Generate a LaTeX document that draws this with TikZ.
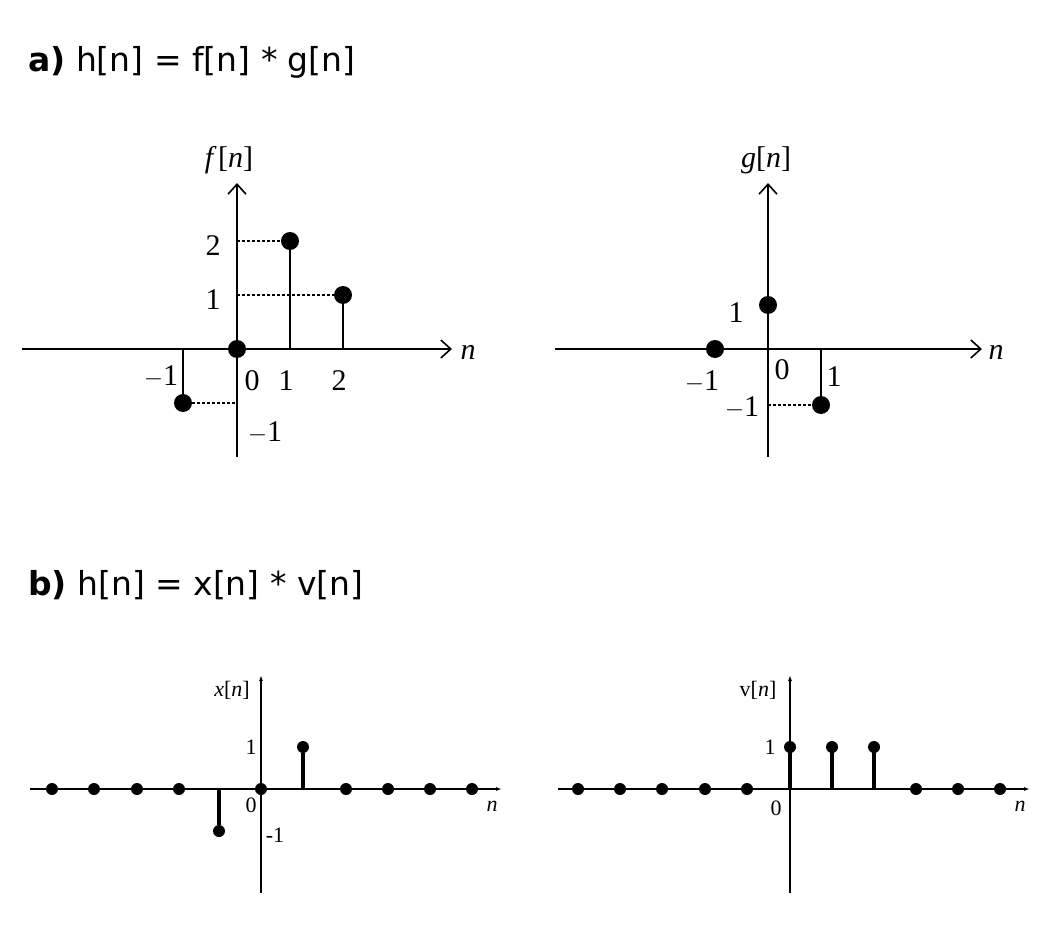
\documentclass[tikz,border=0pt]{standalone}
\usepackage{fontspec}
\setmainfont{Liberation Serif}
\newfontfamily\titlefont{DejaVu Sans}
\usetikzlibrary{arrows.meta}
\begin{document}
\begin{tikzpicture}[x=1pt,y=-1pt,
  ax/.style={line width=1.6pt,-{Straight Barb[length=10pt,width=18pt,line width=1.6pt]}},
  axs/.style={line width=1.2pt,-{Latex[length=6pt,width=4pt]}},
  stem/.style={line width=1.4pt},
  stemb/.style={line width=3.5pt},
  dot/.style={circle,fill=black,inner sep=0pt,minimum size=18pt},
  dots/.style={circle,fill=black,inner sep=0pt,minimum size=12pt},
  dl/.style={dashed,dash pattern=on 3pt off 2pt,line width=1.1pt},
  lab/.style={font=\fontsize{30}{32}\selectfont,inner sep=0pt},
  labs/.style={font=\fontsize{22}{24}\selectfont,inner sep=0pt},
  ttl/.style={font=\titlefont\fontsize{33}{36}\selectfont,anchor=west,inner sep=0pt}]
\useasboundingbox (0,0) rectangle (1053,931);
\node[ttl] (ta) at (28,62) {\textbf{a)} h[n] = f[n] * g[n]};
\node[ttl] (tb) at (28,585) {\textbf{b)} h[n] = x[n] * v[n]};
% plot f
\draw[ax] (22,349) -- (452,349);
\draw[ax] (237,457) -- (237,183);
\node[lab] (fl) at (229,160) {\textit{f\,}[\textit{n}]};
\node[lab] (fn) at (468,352) {\textit{n}};
\node[dot] (f0) at (237,349) {};
\node[dot] (f1) at (290,241) {};
\node[dot] (f2) at (343,295) {};
\node[dot] (fm) at (183,403) {};
\draw[stem] (f1) -- (290,349); \draw[stem] (f2) -- (343,349); \draw[stem] (fm) -- (183,349);
\draw[dl] (237,241) -- (f1); \draw[dl] (237,295) -- (f2); \draw[dl] (fm) -- (237,403);
\node[lab] at (213,246) {2}; \node[lab] at (213,300) {1};
\node[lab] at (161,377) {$-$1}; \node[lab] at (252,381) {0};
\node[lab] at (286,381) {1}; \node[lab] at (339,381) {2};
\node[lab] at (265,433) {$-$1};
% plot g
\draw[ax] (555,349) -- (982,349);
\draw[ax] (768,457) -- (768,183);
\node[lab] (gl) at (766,160) {\textit{g}[\textit{n}]};
\node[lab] (gn) at (996,352) {\textit{n}};
\node[dot] (gm) at (715,349) {};
\node[dot] (g0) at (768,305) {};
\node[dot] (g1) at (821,405) {};
\draw[stem] (g1) -- (821,349);
\draw[dl] (768,405) -- (g1);
\node[lab] at (736,313) {1}; \node[lab] at (702,382) {$-$1};
\node[lab] at (782,370) {0}; \node[lab] at (834,377) {1};
\node[lab] at (742,408) {$-$1};
% plot x
\draw[axs] (30,789) -- (502,789);
\draw[axs] (261,893) -- (261,675);
\node[labs] at (232,690) {\textit{x}[\textit{n}]};
\node[labs] at (492,806) {\textit{n}};
\foreach \px in {52,94,137,179,261,346,388,430,472} \node[dots] at (\px,789) {};
\node[dots] (xm) at (219,831) {}; \draw[stemb] (xm) -- (219,789);
\node[dots] (xp) at (303,747) {}; \draw[stemb] (xp) -- (303,789);
\node[labs] at (251,747) {1}; \node[labs] at (251,805) {0};
\node[labs] at (275,835) {-1};
% plot v
\draw[axs] (558,789) -- (1030,789);
\draw[axs] (790,893) -- (790,675);
\node[labs] at (758,690) {v[\textit{n}]};
\node[labs] at (1020,806) {\textit{n}};
\foreach \px in {578,620,662,705,747,916,958,1000} \node[dots] at (\px,789) {};
\foreach \px in {790,832,874} {\node[dots] at (\px,747) {}; \draw[stemb] (\px,747) -- (\px,789);}
\node[labs] at (770,747) {1}; \node[labs] at (776,808) {0};
\end{tikzpicture}
\end{document}
